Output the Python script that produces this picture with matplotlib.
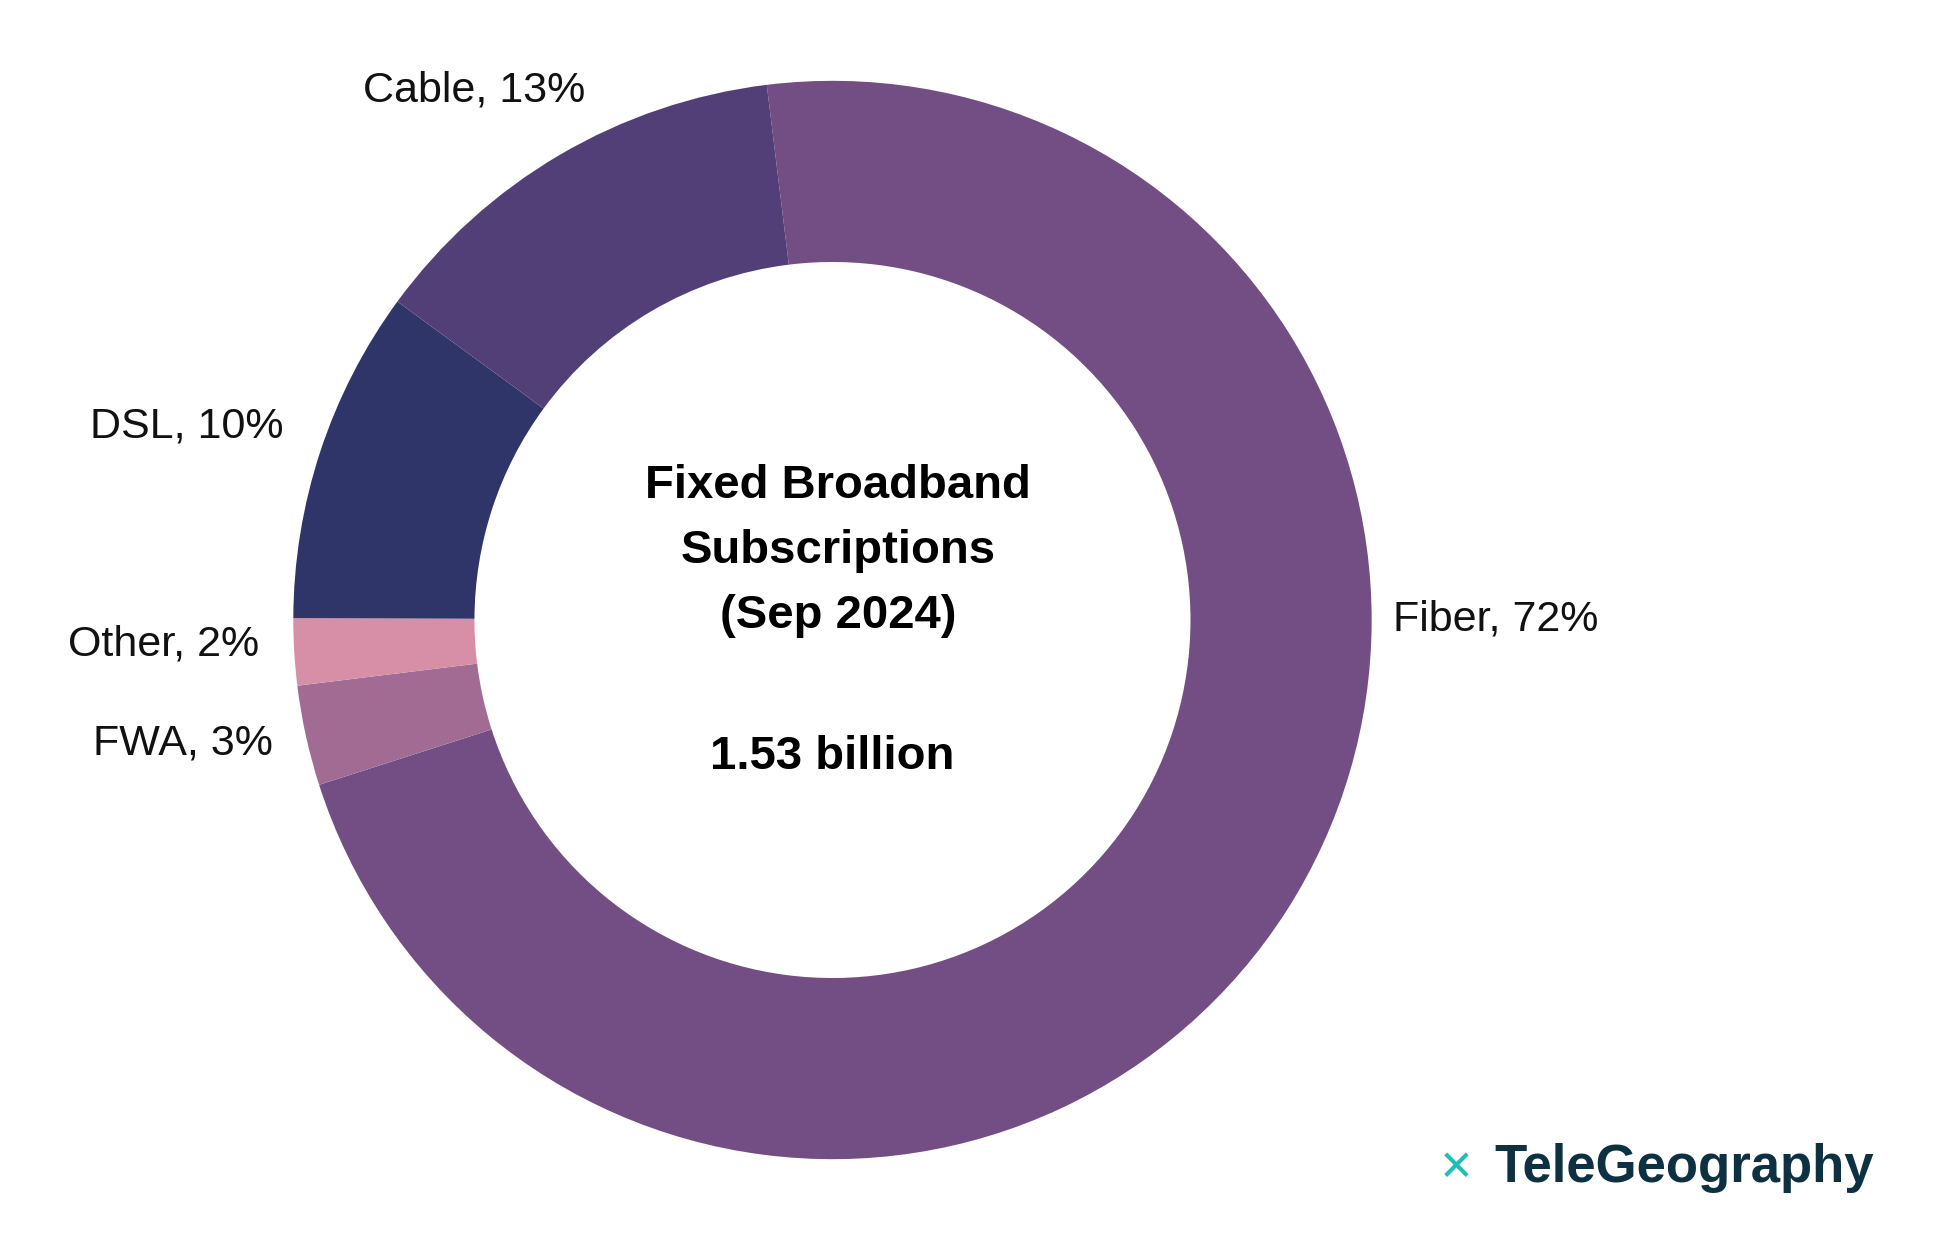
import matplotlib
matplotlib.use("Agg")
import matplotlib.pyplot as plt

categories = ["Fiber", "FWA", "Other", "DSL", "Cable"]
values = [72, 3, 2, 10, 13]
colors = ["#724e85", "#a26b93", "#d68fa7", "#2f3469", "#523f78"]
label_pos = {"Fiber": (1.04, 0.0, "left"), "FWA": (-1.037, -0.229, "right"),
             "Other": (-1.064, -0.046, "right"), "DSL": (-1.018, 0.359, "right"),
             "Cable": (-0.458, 0.982, "right")}

plt.rcParams['font.family'] = ['Liberation Sans', 'DejaVu Sans']
fig = plt.figure(figsize=(19.36, 12.4), dpi=100)
cx, cy = 0.430, 0.500
w, h = 0.557, 0.870
ax = fig.add_axes([cx - w/2, cy - h/2, w, h])
ax.pie(values, colors=colors, startangle=97, counterclock=False, radius=1,
       wedgeprops=dict(width=0.336, linewidth=0))
ax.set_xlim(-1, 1); ax.set_ylim(-1, 1); ax.axis('off')
for c, v in zip(categories, values):
    x, y, ha = label_pos[c]
    ax.text(x, y, f"{c}, {v}%", ha=ha, va='center', fontsize=31, color='#111111', clip_on=False)
ax.text(0.01, 0.128, "Fixed Broadband\nSubscriptions\n(Sep 2024)", ha='center', va='center',
        fontsize=34, fontweight='bold', linespacing=1.62)
ax.text(0.0, -0.255, "1.53 billion", ha='center', va='center', fontsize=34, fontweight='bold')
fig.text(0.772, 0.058, "TeleGeography", fontsize=38, fontweight='bold', color='#0d3140', va='center', ha='left')
fig.text(0.752, 0.058, "✕", fontsize=30, color='#1fbfb8', va='center', ha='center', family=['DejaVu Sans'])
fig.savefig("out.png", dpi=100)
